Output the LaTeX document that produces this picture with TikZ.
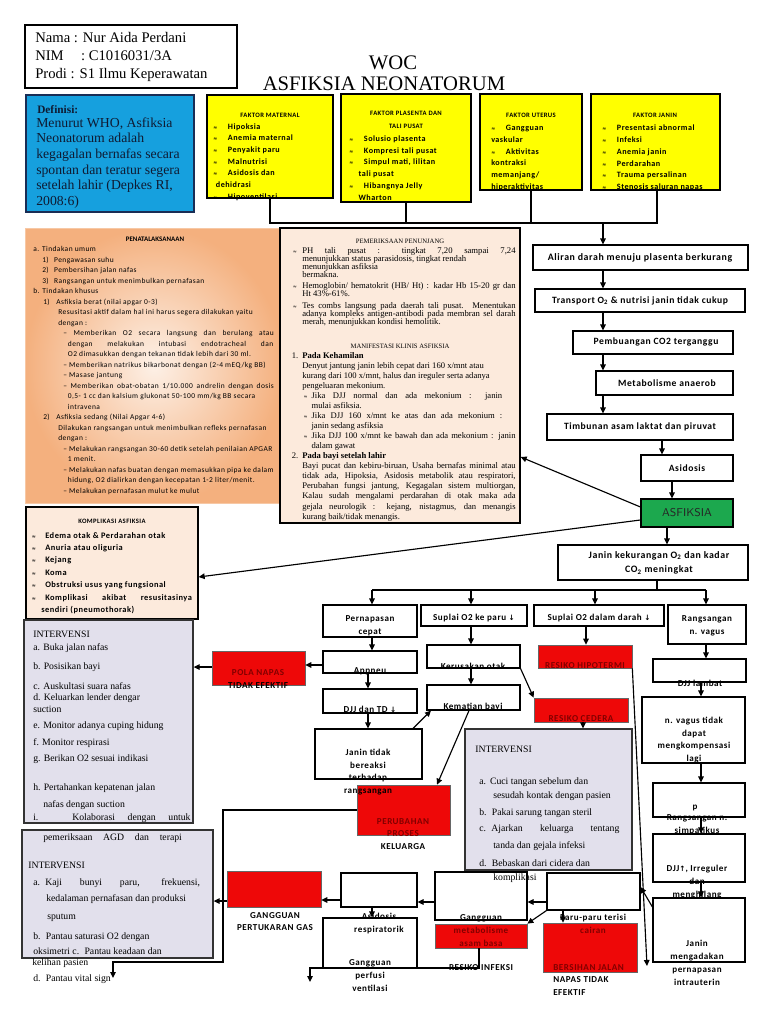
\documentclass[tikz,border=0pt]{standalone}
\usepackage{fontspec}
\setmainfont{Liberation Serif}
\newfontfamily\cb{Carlito}
\newfontfamily\cbs{Carlito}[LetterSpace=6]
\newfontfamily\dv{DejaVu Sans}
\usetikzlibrary{arrows.meta,fit}
\definecolor{defblue}{RGB}{22,160,222}
\definecolor{navy}{RGB}{25,45,85}
\definecolor{fyel}{RGB}{255,255,0}
\definecolor{fred}{RGB}{238,8,8}
\definecolor{fgreen}{RGB}{28,168,78}
\definecolor{lav}{RGB}{226,224,236}
\definecolor{peach}{RGB}{252,234,220}
\definecolor{orng}{RGB}{244,176,126}
\definecolor{dred}{RGB}{130,0,0}
\newcommand\fsz[2]{\fontsize{#1}{#2}\selectfont}
\newcommand\ybul{{\dv\fsz{3.6}{4}≈}}
\newcommand\yi{\ybul\hspace{8pt}}
\newcommand\dnar{{\dv\fsz{5.5}{6}↓}}
\newcommand\uparr{{\dv\fsz{5.5}{6}↑}}
\newcommand\mybox[6][]{\node[fit={(#3,#4) (#5,#6)}, inner sep=0pt, #1] (#2) {};}
\newcommand\mytl[4][]{\node[tx,#1] (#2) at (#3) {#4};}
\tikzset{
 wb/.style={draw=black, line width=0.85pt, fill=white},
 ybx/.style={draw=black, line width=1.5pt, fill=fyel},
 rbx/.style={draw=black!60, line width=0.5pt, fill=fred},
 lbx/.style={draw=black!80, line width=1pt, fill=lav},
 arr/.style={-{Triangle[length=4.5pt,width=4.2pt]}, line width=0.85pt},
 ln/.style={line width=0.85pt},
 tx/.style={inner sep=0pt, anchor=west, align=left},
 ctx/.style={inner sep=0pt, align=center},
 fl/.style={ctx, font=\cbs\bfseries\fsz{6.8}{9.6}},
 yf/.style={tx, font=\cbs\bfseries\fsz{6.1}{8.8}},
 yh/.style={ctx, font=\cbs\bfseries\fsz{5}{9.6}},
 ivf/.style={tx, font=\fsz{7.3}{8}},
}
\begin{document}
\begin{tikzpicture}[x=0.75pt,y=-0.75pt]
\useasboundingbox (0,0) rectangle (768,1024);
\fill[white] (0,0) rectangle (768,1024);

% ---------- header ----------
\mybox[draw, line width=1.2pt]{hdr}{25}{25}{237}{88}
\mytl[font=\fsz{11}{13.5}]{hdrt}{35,57}{Nama : Nur Aida Perdani\\NIM\hspace{13pt}: C1016031/3A\\Prodi : S1 Ilmu Keperawatan}
\node[ctx, font=\fsz{15.5}{18}] (woc) at (393,63) {WOC};
\node[ctx, font=\fsz{15.5}{18}] (ttl) at (384,84) {ASFIKSIA NEONATORUM};

% ---------- definisi ----------
\mybox[draw=navy, line width=1.4pt, fill=defblue]{def}{26}{95}{194}{212}
\mytl[font=\bfseries\fsz{8.5}{10}, text=navy!60!black]{defh}{37,110}{Definisi:}
\mytl[font=\fsz{10.3}{11.7}, text=navy!60!black]{deft}{36,163}{Menurut WHO, Asfiksia\\Neonatorum adalah\\kegagalan bernafas secara\\spontan dan teratur segera\\setelah lahir (Depkes RI,\\2008:6)}

% ---------- faktor boxes ----------
\mybox[ybx]{fm}{207}{95}{333}{198}
\node[yh] (fmh) at (270,115) {FAKTOR MATERNAL};
\mytl[yf]{fmt}{213,162}{\yi Hipoksia\\\yi Anemia maternal\\\yi Penyakit paru\\\yi Malnutrisi\\\yi Asidosis dan\\\hspace*{2pt}dehidrasi\\\yi Hipoventilasi}

\mybox[ybx]{fp}{341}{94}{471}{202}
\node[yh] (fph) at (406,120) {FAKTOR PLASENTA DAN\\TALI PUSAT};
\mytl[yf]{fpt}{349,168}{\yi Solusio plasenta\\\yi Kompresi tali pusat\\\yi Simpul mati, lilitan\\\hspace*{7pt}tali pusat\\\yi Hibangnya Jelly\\\hspace*{7pt}Wharton}

\mybox[ybx]{fu}{480}{94}{582}{190}
\node[yh] (fuh) at (531,115) {FAKTOR UTERUS};
\mytl[yf]{fut}{491,158}{\yi Gangguan\\vaskular\\\yi Aktivitas\\kontraksi\\memanjang/\\hiperaktivitas}

\mybox[ybx]{fj}{591}{94}{720}{190}
\node[yh] (fjh) at (655,115) {FAKTOR JANIN};
\mytl[yf]{fjt}{602,158}{\yi Presentasi abnormal\\\yi Infeksi\\\yi Anemia janin\\\yi Perdarahan\\\yi Trauma persalinan\\\yi Stenosis saluran napas}

% ---------- penatalaksanaan ----------
\mybox[draw=orng!70, line width=0.5pt, inner color=peach!70, outer color=orng]{pt}{25}{228}{283}{503}
\node[ctx, font=\cb\bfseries\fsz{5.2}{6}] (pth) at (155,239) {PENATALAKSANAAN};
\mytl[font=\cbs\fsz{5.6}{7.875}]{ptt}{33,370.5}{a. Tindakan umum\\
\hspace*{6.75pt}1)\hspace{4pt}Pengawasan suhu\\
\hspace*{6.75pt}2)\hspace{4pt}Pembersihan jalan nafas\\
\hspace*{6.75pt}3)\hspace{4pt}Rangsangan untuk menimbulkan pernafasan\\
b. Tindakan khusus\\
\hspace*{7.5pt}1)\hspace{5pt}Asfiksia berat (nilai apgar 0-3)\\
\hspace*{18.75pt}Resusitasi aktif dalam hal ini harus segera dilakukan yaitu\\
\hspace*{18.75pt}dengan :\\
\hspace*{22.5pt}\makebox[158pt][s]{– Memberikan O2 secara langsung dan berulang atau}\\
\hspace*{26pt}\makebox[154pt][s]{dengan melakukan intubasi endotracheal dan}\\
\hspace*{26pt}O2 dimasukkan dengan tekanan tidak lebih dari 30 ml.\\
\hspace*{22.5pt}– Memberikan natrikus bikarbonat dengan (2-4 mEQ/kg BB)\\
\hspace*{22.5pt}– Masase jantung\\
\hspace*{22.5pt}\makebox[158pt][s]{– Memberikan obat-obatan 1/10.000 andrelin dengan dosis}\\
\hspace*{26pt}0,5- 1 cc dan kalsium glukonat 50-100 mm/kg BB secara\\
\hspace*{26pt}intravena\\
\hspace*{7.5pt}2)\hspace{5pt}Asfiksia sedang (Nilai Apgar 4-6)\\
\hspace*{18.75pt}Dilakukan rangsangan untuk menimbulkan refleks pernafasan\\
\hspace*{18.75pt}dengan :\\
\hspace*{22.5pt}– Melakukan rangsangan 30-60 detik setelah penilaian APGAR\\
\hspace*{26pt}1 menit.\\
\hspace*{22.5pt}– Melakukan nafas buatan dengan memasukkan pipa ke dalam\\
\hspace*{26pt}hidung, O2 dialirkan dengan kecepatan 1-2 liter/menit.\\
\hspace*{22.5pt}– Melakukan pernafasan mulut ke mulut}

% ---------- pemeriksaan ----------
\mybox[draw=black, line width=1pt, fill=peach]{pp}{280}{228}{520}{523}
\node[ctx, font=\fsz{5}{6}] (pph) at (400,241) {PEMERIKSAAN PENUNJANG};
\mytl[font=\fsz{6.5}{6}]{ppt}{302,287}{\llap{\ybul\hspace{4pt}}\makebox[160pt][s]{PH tali pusat : tingkat 7,20 sampai 7,24}\\
menunjukkan status parasidosis, tingkat rendah\\
menunjukkan asfiksia\\
bermakna.\\[2.2pt]
\llap{\ybul\hspace{4pt}}\makebox[160pt][s]{Hemoglobin/ hematokrit (HB/ Ht) : kadar Hb 15-20 gr dan}\\
Ht 43\%-61\%.\\[3pt]
\llap{\ybul\hspace{4pt}}\makebox[160pt][s]{Tes combs langsung pada daerah tali pusat. Menentukan}\\
\makebox[160pt][s]{adanya kompleks antigen-antibodi pada membran sel darah}\\
merah, menunjukkan kondisi hemolitik.}
\node[ctx, font=\fsz{5}{6}] (mkh) at (400,346) {MANIFESTASI KLINIS ASFIKSIA};
\mytl[font=\fsz{6.45}{7.55}]{mkt}{302,436.5}{\llap{1.\hspace{3pt}}\textbf{Pada Kehamilan}\\
Denyut jantung janin lebih cepat dari 160 x/mnt atau\\
kurang dari 100 x/mnt, halus dan ireguler serta adanya\\
pengeluaran mekonium.\\
\hspace*{7pt}\llap{\ybul\hspace{3pt}}\makebox[143pt][s]{Jika DJJ normal dan ada mekonium : janin}\\
\hspace*{7pt}mulai asfiksia.\\
\hspace*{7pt}\llap{\ybul\hspace{3pt}}\makebox[143pt][s]{Jika DJJ 160 x/mnt ke atas dan ada mekonium :}\\
\hspace*{7pt}janin sedang asfiksia\\
\hspace*{7pt}\llap{\ybul\hspace{3pt}}\makebox[153pt][s]{Jika DJJ 100 x/mnt ke bawah dan ada mekonium : janin}\\
\hspace*{7pt}dalam gawat\\
\llap{2.\hspace{3pt}}\textbf{Pada bayi setelah lahir}\\
\makebox[160pt][s]{Bayi pucat dan kebiru-biruan, Usaha bernafas minimal atau}\\
\makebox[160pt][s]{tidak ada, Hipoksia, Asidosis metabolik atau respiratori,}\\
\makebox[160pt][s]{Perubahan fungsi jantung, Kegagalan sistem multiorgan,}\\
\makebox[160pt][s]{Kalau sudah mengalami perdarahan di otak maka ada}\\
\makebox[160pt][s]{gejala neurologik : kejang, nistagmus, dan menangis}\\
kurang baik/tidak menangis.}

% ---------- right flow column ----------
\mybox[wb]{aliran}{533}{245}{748}{270}
\mybox[wb]{transport}{535}{289}{745}{312}
\mybox[wb]{pembuangan}{573}{331}{733}{354}
\mybox[wb]{metab}{596}{371}{733}{395}
\mybox[wb]{timbunan}{547}{414}{733}{440}
\mybox[wb]{asidosis}{641}{455}{733}{481}
\mybox[draw=black, line width=0.85pt, fill=fgreen]{asf}{641}{499}{733}{527}
\node[fl, font=\cbs\bfseries\fsz{7.4}{9}] (alirant) at (640,258) {Aliran darah menuju plasenta berkurang};
\node[fl, font=\cbs\bfseries\fsz{7.2}{9}] (transportt) at (640,301) {Transport O\textsubscript{2} \& nutrisi janin tidak cukup};
\node[fl, font=\cbs\bfseries\fsz{7.2}{9}] (pembuangant) at (656,342) {Pembuangan CO2 terganggu};
\node[fl, font=\cbs\bfseries\fsz{7.2}{9}] (metabt) at (667,383) {Metabolisme anaerob};
\node[fl, font=\cbs\bfseries\fsz{7.2}{9}] (timbunant) at (640,427) {Timbunan asam laktat dan piruvat};
\node[fl, font=\cbs\bfseries\fsz{7.2}{9}] (asidosist) at (687,468) {Asidosis};
\node[ctx, font=\sffamily\fsz{8.5}{9}, text=black!85] (asft) at (687,513) {ASFIKSIA};

\mybox[wb]{jo2}{558}{545}{748}{580}
\node[fl, font=\cbs\bfseries\fsz{7.4}{11}] (jo2t) at (659,563) {Janin kekurangan O\textsubscript{2} dan kadar\\CO\textsubscript{2} meningkat};

% ---------- komplikasi ----------
\mybox[draw=black, line width=1pt, fill=peach]{komp}{26}{507}{198}{619}
\node[ctx, font=\cbs\bfseries\fsz{5}{6}] (komph) at (112,521) {KOMPLIKASI ASFIKSIA};
\mytl[font=\cbs\bfseries\fsz{6.3}{9.3}]{kompt}{45,573}{\llap{\ybul\hspace{7pt}}Edema otak \& Perdarahan otak\\
\llap{\ybul\hspace{7pt}}Anuria atau oliguria\\
\llap{\ybul\hspace{7pt}}Kejang\\
\llap{\ybul\hspace{7pt}}Koma\\
\llap{\ybul\hspace{7pt}}Obstruksi usus yang fungsional\\
\llap{\ybul\hspace{7pt}}\makebox[110pt][s]{Komplikasi akibat resusitasinya}\\
\hspace*{-3pt}sendiri (pneumothorak)}

% ---------- intervensi 1 ----------
\mybox[lbx]{iv1}{24}{620}{193}{823}
\mytl[ivf]{iv1a}{33,634}{INTERVENSI}
\mytl[ivf]{iv1b}{33,648}{a. Buka jalan nafas}
\mytl[ivf]{iv1c}{33,667}{b. Posisikan bayi}
\mytl[ivf]{iv1d}{33,686}{c. Auskultasi suara nafas}
\mytl[ivf]{iv1e}{33,698}{d. Keluarkan lender dengar}
\mytl[ivf]{iv1f}{33,709}{suction}
\mytl[ivf]{iv1g}{33,726}{e. Monitor adanya cuping hidung}
\mytl[ivf]{iv1h}{33,743}{f. Monitor respirasi}
\mytl[ivf]{iv1i}{33,759}{g. Berikan O2 sesuai indikasi}
\mytl[ivf]{iv1j}{33,788}{h. Pertahankan kepatenan jalan}
\mytl[ivf]{iv1k}{43,805}{nafas dengan suction}
\mytl[ivf]{iv1l}{33,818}{\makebox[118pt][s]{i. Kolaborasi dengan untuk}}

% ---------- intervensi 2 ----------
\mybox[lbx]{iv2}{22}{830}{213}{958}
\mytl[ivf]{iv2a}{43,838}{\makebox[104pt][s]{pemeriksaan AGD dan terapi}}
\mytl[ivf]{iv2b}{28,865}{INTERVENSI}
\mytl[ivf]{iv2c}{33,883}{a.\hspace{4pt}\makebox[116pt][s]{Kaji bunyi paru, frekuensi,}}
\mytl[ivf]{iv2d}{46,899}{kedalaman pernafasan dan produksi}
\mytl[ivf]{iv2e}{47,918}{sputum}
\mytl[ivf]{iv2f}{33,937}{b.\hspace{4pt}Pantau saturasi O2 dengan}
\mytl[ivf]{iv2g}{33,951}{oksimetri c.\hspace{4pt}Pantau keadaan dan}
\mytl[ivf]{iv2h}{32,963}{kelihan pasien}
\mytl[ivf]{iv2i}{33,979}{d.\hspace{4pt}Pantau vital sign}

% ---------- middle boxes ----------
\mybox[wb]{pc}{323}{605}{417}{637}
\mybox[wb]{sp}{421}{605}{527}{626}
\mybox[wb]{sd}{534}{605}{664}{626}
\mybox[wb]{rv}{668}{605}{746}{644}
\mybox[wb]{ap}{323}{651}{417}{673}
\mybox[rbx]{pola}{212}{651}{305}{685}
\mybox[wb]{djj}{323}{689}{417}{713}
\mybox[wb]{jtb}{315}{729}{422}{779}
\mybox[wb]{ko}{427}{645}{520}{668}
\mybox[wb]{kb}{427}{685}{520}{710}
\mybox[rbx]{hipo}{538}{645}{632}{668}
\mybox[rbx]{ced}{534}{698}{628}{722}
\mybox[lbx]{iv3}{465}{729}{632}{870}
\mybox[rbx]{ppk}{357}{785}{450}{835}
\mybox[rbx]{gpg}{227}{871}{321}{907}
\mybox[wb]{ar}{341}{873}{417}{907}
\mybox[wb]{gpv}{323}{918}{417}{968}
\mybox[wb]{gm}{435}{872}{527}{920}
\mybox[rbx]{ri}{435}{924}{527}{948}
\mybox[wb]{paru}{547}{873}{640}{910}
\mybox[rbx]{bj}{543}{923}{637}{972}
\mybox[wb]{dl}{653}{659}{746}{682}
\mybox[wb]{nv}{642}{697}{745}{763}
\mybox[wb]{rs}{653}{783}{745}{817}
\mybox[wb]{dj2}{653}{834}{745}{882}
\mybox[wb]{jm}{653}{898}{745}{962}

\node[fl] (pct) at (370,625.5) {Pernapasan\\cepat};
\node[fl] (spt) at (474,618) {Suplai O2 ke paru \dnar};
\node[fl] (sdt) at (599,618) {Suplai O2 dalam darah \dnar};
\node[fl] (rvt) at (707,626) {Rangsangan\\n. vagus};
\node[fl] (apt) at (370,671) {Appneu};
\node[fl] (polat) at (258,679) {\textcolor{dred}{POLA NAPAS}\\TIDAK EFEKTIF};
\node[fl] (djjt) at (370,709) {DJJ dan TD \dnar};
\node[fl] (jtbt) at (368,772) {Janin tidak\\bereaksi\\terhadap\\rangsangan};
\node[fl] (kot) at (473,666) {Kerusakan otak};
\node[fl] (kbt) at (473,707) {Kematian bayi};
\node[fl, text=dred] (hipot) at (585,666) {RESIKO HIPOTERMI};
\node[fl, text=dred] (cedt) at (581,719) {RESIKO CEDERA};
\node[fl] (ppkt) at (403,834) {\textcolor{dred}{PERUBAHAN}\\\textcolor{dred}{PROSES}\\KELUARGA};
\node[fl] (gpgt) at (275,921.5) {GANGGUAN\\PERTUKARAN GAS};
\node[fl] (art) at (379,923.5) {Asidosis\\respiratorik};
\node[fl] (gpvt) at (370,975.5) {Gangguan\\perfusi\\ventilasi};
\node[fl] (gmt) at (481,930.5) {Gangguan\\\textcolor{dred}{metabolisme}\\\textcolor{dred}{asam basa}};
\node[fl] (rit) at (481,968) {RESIKO INFEKSI};
\node[fl] (parut) at (593,923.5) {Paru-paru terisi\\\textcolor{dred}{cairan}};
\node[fl, align=left, anchor=west] (bjt) at (553,980) {\textcolor{dred}{BERSIHAN JALAN}\\NAPAS TIDAK\\EFEKTIF};
\node[fl] (dlt) at (700,683) {DJJ lambat};
\node[fl] (nvt) at (694,740) {n. vagus tidak\\dapat\\mengkompensasi\\lagi};
\node[fl] (rsp) at (695,808) {p};
\node[fl] (rst) at (697,825) {Rangsangan n.\\simpatikus};
\node[fl] (dj2t) at (697,882) {DJJ\uparr, Irreguler\\dan\\menghilang};
\node[fl] (jmt) at (697,963) {Janin\\mengadakan\\pernapasan\\intrauterin};

\mytl[ivf]{iv3a}{475,749}{INTERVENSI}
\mytl[ivf]{iv3b}{479,782}{a.\hspace{3pt}Cuci tangan sebelum dan}
\mytl[ivf]{iv3c}{493,796}{sesudah kontak dengan pasien}
\mytl[ivf]{iv3d}{479,813}{b.\hspace{4pt}Pakai sarung tangan steril}
\mytl[ivf]{iv3e}{479,829}{c.\hspace{4pt}\makebox[96pt][s]{Ajarkan keluarga tentang}}
\mytl[ivf]{iv3f}{493,846}{tanda dan gejala infeksi}
\mytl[ivf]{iv3g}{479,863}{d.\hspace{4pt}Bebaskan dari cidera dan}
\mytl[ivf]{iv3h}{493,878}{komplikasi}

% ---------- connectors: top ----------
\coordinate (busl) at (270,223);
\coordinate (busr) at (657,223);
\draw[ln] (fm.south -| busl) -- (busl) -- (busr) -- (fj.south -| busr);
\draw[ln] (fp.south) -- (fp.south |- busl);
\draw[ln] (fu.south) -- (fu.south |- busl);
\draw[arr] (busl -| 603,0) -- (aliran.north -| 603,0);
\draw[arr] (aliran.south -| 603,0) -- (transport.north -| 603,0);
\draw[arr] (transport.south -| 603,0) -- (pembuangan.north -| 603,0);
\draw[arr] (pembuangan.south -| 603,0) -- (metab.north -| 603,0);
\draw[arr] (metab.south -| 603,0) -- (timbunan.north -| 603,0);
\draw[arr] (timbunan.south -| 662,0) -- (asidosis.north -| 662,0);
\draw[arr] (asidosis.south -| 672,0) -- (asf.north -| 672,0);
\draw[arr] (asf.west |- 0,507) -- (pp.east |- 0,457);
\draw[arr] (asf.west |- 0,520) -- (komp.east |- 0,577);
\draw[arr] (asf.south -| 667,0) -- (jo2.north -| 667,0);

% ---------- branch ----------
\coordinate (bl) at (372,590);
\coordinate (br) at (706,590);
\draw[ln] (jo2.south -| 657,0) -- (bl -| 657,0);
\draw[ln] (bl) -- (br);
\draw[arr] (bl) -- (pc.north -| bl);
\draw[arr] (bl -| 471,0) -- (sp.north -| 471,0);
\draw[arr] (bl -| 595,0) -- (sd.north -| 595,0);
\draw[arr] (br) -- (rv.north -| br);

% ---------- middle connectors ----------
\draw[arr] (pc.south -| 372,0) -- (ap.north -| 372,0);
\draw[arr] (ap.west |- 0,665) -- (pola.east |- 0,665);
\draw[arr] (pola.west |- 0,667) -- (iv1.east |- 0,667);
\draw[arr] (ap.south -| 368,0) -- (djj.north -| 368,0);
\draw[arr] (djj.south -| 368,0) -- (jtb.north -| 368,0);
\draw[arr] (jtb.north -| 413,0) -- (kb.south -| 431,0);
\draw[arr] (sp.south -| 471,0) -- (ko.north -| 471,0);
\draw[arr] (ko.south -| 471,0) -- (kb.north -| 471,0);
\draw[arr] (ko.south east) -- (ced.north west);
\draw[arr] (sd.south -| 586,0) -- (hipo.north -| 586,0);
\draw[arr] (ced.south -| 583,0) -- (iv3.north -| 583,0);
\draw[arr] (kb.south -| 469,0) -- (ppk.north -| 437,0);
\coordinate (hipoend) at (647,966);
\draw[arr] (hipo.south east) -- (hipoend);
\coordinate (ppkend) at (113,978);
\draw[arr] (ppk.west) -| (223,962) -| (ppkend);
\draw[arr] (gpg.west |- 0,901) -- (iv2.east |- 0,901);
\draw[arr] (ar.west |- 0,900) -- (gpg.east |- 0,900);
\draw[arr] (ar.south -| 372,0) -- (gpv.north -| 372,0);
\draw[arr] (gm.west |- 0,902) -- (ar.east |- 0,902);
\draw[arr] (paru.west |- 0,902) -- (gm.east |- 0,902);
\draw[arr] (paru.south west) -- (ri.north east);
\draw[arr] (paru.south -| 563,0) -- (bj.north -| 563,0);
\coordinate (riend) at (310,982);
\draw[arr] (ri.south -| 479,0) -- (479,968) -| (riend);
\draw[arr] (jm.west |- 0,907) -- (paru.east |- 0,887);

% ---------- right column connectors ----------
\draw[arr] (rv.south -| 706,0) -- (dl.north -| 706,0);
\draw[arr] (dl.south -| 701,0) -- (nv.north -| 701,0);
\draw[arr] (nv.south -| 701,0) -- (rs.north -| 701,0);
\draw[arr] (rs.south -| 701,0) -- (dj2.north -| 701,0);
\draw[arr] (dj2.south -| 701,0) -- (jm.north -| 701,0);
\end{tikzpicture}
\end{document}
